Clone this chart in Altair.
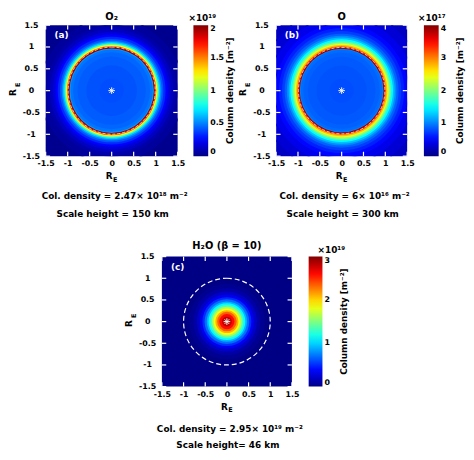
import math
import altair as alt
import pandas as pd

FONT = "DejaVu Sans"
TICKS = [-1.5, -1, -0.5, 0, 0.5, 1, 1.5]
JET = ["#000084", "#0000ff", "#00ffff", "#ffff00", "#ff0000", "#800000"]
JET_STOPS = [0, 0.125, 0.375, 0.625, 0.875, 1]

# (a) O2: column density (x1e19 m^-2) in concentric bands; radius = outer edge of band (R_E)
radius_a = [0.30, 0.60, 0.80, 0.90, 0.96, 0.985, 1.00, 1.02, 1.04, 1.06, 1.08, 1.10,
            1.13, 1.16, 1.20, 1.25, 1.30, 1.36, 1.43, 1.50, 1.65, 2.20]
dens_a = [0.40, 0.41, 0.43, 0.45, 0.48, 0.55, 2.00, 1.85, 1.55, 1.25, 1.00, 0.82,
          0.65, 0.52, 0.42, 0.33, 0.25, 0.18, 0.12, 0.08, 0.05, 0.02]
cbar_a = [0, 0.5, 1, 1.5, 2]

# (b) O: column density (x1e17 m^-2)
radius_b = [0.30, 0.60, 0.80, 0.90, 0.96, 0.985, 1.00, 1.02, 1.04, 1.07, 1.10, 1.13,
            1.16, 1.20, 1.24, 1.28, 1.33, 1.39, 1.46, 1.55, 1.70, 1.90, 2.20]
dens_b = [0.80, 0.82, 0.85, 0.88, 0.92, 1.00, 4.00, 3.60, 3.20, 2.75, 2.40, 2.10,
          1.80, 1.50, 1.25, 1.05, 0.88, 0.74, 0.62, 0.52, 0.42, 0.33, 0.25]
cbar_b = [0, 1, 2, 3, 4]

# (c) H2O: column density (x1e19 m^-2)
radius_c = [0.08, 0.14, 0.20, 0.25, 0.29, 0.33, 0.37, 0.41, 0.45, 0.49, 0.54, 0.59,
            0.65, 0.72, 0.80, 0.90, 2.20]
dens_c = [2.95, 2.80, 2.60, 2.35, 2.10, 1.85, 1.60, 1.35, 1.12, 0.90, 0.70, 0.50,
          0.33, 0.20, 0.10, 0.04, 0.00]
cbar_c = [0, 1, 2, 3]

center = {"x": [0.0], "y": [0.0]}
STAR = "M-1,0L1,0M0,-1L0,1M-0.7,-0.7L0.7,0.7M-0.7,0.7L0.7,-0.7"


def tx(s, x, y, size=9, angle=0, color="black", align="center", baseline="middle"):
    return alt.Chart(pd.DataFrame({"s": [s]})).mark_text(
        font=FONT, fontSize=size, fontWeight="bold", angle=angle, color=color,
        align=align, baseline=baseline
    ).encode(text="s:N", x=alt.value(x), y=alt.value(y))


def panel(radius, dens, vmax, cvals, W, H, title, title_y, tag, expo, expo_dx,
          line1, line2, l1y, l2y, cb_off, cb_thick, limb_r, limb_color, limb_w, limb_dash):
    # each band overlaps the previous one by about 1 px so no seams show
    inner = [0.0] + [max(r - 0.025, 0.0) for r in radius[:-1]]
    rings = pd.DataFrame({"r": radius, "r0": inner, "v": dens})
    xs = alt.Scale(domain=[-1.5, 1.5], nice=False, zero=False)
    ys = alt.Scale(domain=[-1.5, 1.5], nice=False, zero=False)
    rs = alt.Scale(type="linear", domain=[0, 1.5], range=[0, W / 2], nice=False, zero=True)
    cdom = [vmax * s for s in JET_STOPS]
    cs = alt.Scale(domain=cdom, range=JET, interpolate="rgb", clamp=True)
    legend = alt.Legend(
        title=None, orient="right", offset=cb_off, direction="vertical",
        gradientLength=H, gradientThickness=cb_thick, gradientStrokeWidth=0,
        values=cvals, labelExpr="'' + datum.value", labelFont=FONT, labelFontSize=8,
        labelFontWeight="bold", labelColor="black", labelOffset=2,
        labelBaseline="middle", labelOverlap=False, padding=0,
    )
    discs = alt.Chart(rings).mark_arc(theta=0, theta2=2 * math.pi, clip=True).encode(
        radius=alt.Radius("r:Q", scale=rs),
        radius2="r0:Q",
        color=alt.Color("v:Q", scale=cs, legend=legend),
    )
    limb = alt.Chart(pd.DataFrame({"r": [limb_r]})).mark_arc(
        theta=0, theta2=2 * math.pi, filled=False, stroke=limb_color,
        strokeWidth=limb_w, strokeDash=limb_dash, clip=True
    ).encode(radius=alt.Radius("r:Q", scale=rs))

    L = 0.1
    rows = []
    for t in TICKS:
        rows.append((t, -1.5, t, -1.5 + L))
        rows.append((t, 1.5, t, 1.5 - L))
        rows.append((-1.5, t, -1.5 + L, t))
        rows.append((1.5, t, 1.5 - L, t))
    tdf = pd.DataFrame(rows, columns=["x", "y", "x2", "y2"])
    ax_x = alt.Axis(values=TICKS, labelExpr="'' + datum.value", domain=False, ticks=False,
                    tickSize=0, grid=False, title=None, labelFont=FONT, labelFontSize=8,
                    labelFontWeight="bold", labelColor="black", labelFlush=False,
                    labelPadding=4)
    ax_y = alt.Axis(values=TICKS, labelExpr="'' + datum.value", domain=False, ticks=False,
                    tickSize=0, grid=False, title=None, labelFont=FONT, labelFontSize=8,
                    labelFontWeight="bold", labelColor="black", labelFlush=False,
                    labelPadding=15, labelAlign="center", labelBaseline="middle")
    tk = alt.Chart(tdf).mark_rule(color="white", strokeWidth=1.2).encode(
        x=alt.X("x:Q", scale=xs, axis=ax_x), x2="x2:Q",
        y=alt.Y("y:Q", scale=ys, axis=ax_y), y2="y2:Q",
    )
    star = alt.Chart(pd.DataFrame(center)).mark_point(
        shape=STAR, filled=False, color="#f4f4f4", size=45, strokeWidth=1, opacity=1
    ).encode(x=alt.X("x:Q", scale=xs, axis=ax_x), y=alt.Y("y:Q", scale=ys, axis=ax_y))

    texts = [
        tx(title, W / 2, title_y, size=10, baseline="alphabetic"),
        tx(tag, 16, 10.5, size=9, color="white"),
        tx("R", -33.5, H / 2 + 2, size=9, angle=270),
        tx("E", -28.5, H / 2 - 6, size=6.5, angle=270),
        tx("R", W / 2 - 2.5, H + 20.5, size=9),
        tx("E", W / 2 + 3.5, H + 24, size=6.5),
        tx(line1, W / 2 + 3, H + l1y, size=9),
        tx(line2, W / 2 + 1, H + l2y, size=9),
        tx(expo, W + expo_dx, -4, size=9, baseline="alphabetic"),
        tx("Column density [m\u207b\u00b2]", W + cb_off + cb_thick + 22, H / 2, size=9, angle=270),
    ]
    return alt.layer(discs, limb, tk, star, *texts).properties(width=W, height=H)


pa = panel(radius_a, dens_a, 2, cbar_a, 134, 133, "O\u2082", -5, "(a)",
           "\u00d710\u00b9\u2079", 25,
           "Col. density = 2.47\u00d7 10\u00b9\u2078 m\u207b\u00b2", "Scale height = 150 km", 41, 59,
           16, 15, 0.99, "#e6e6e6", 0.8, [3, 2])
pb = panel(radius_b, dens_b, 4, cbar_b, 133, 133, "O", -5, "(b)",
           "\u00d710\u00b9\u2077", 25,
           "Col. density = 6\u00d7 10\u00b9\u2076 m\u207b\u00b2", "Scale height = 300 km", 41, 59,
           17, 15, 0.99, "#e6e6e6", 0.8, [3, 2])
pc = panel(radius_c, dens_c, 3, cbar_c, 132, 132, "H\u2082O (\u03b2 = 10)", -8, "(c)",
           "\u00d710\u00b9\u2079", 40,
           "Col. density = 2.95\u00d7 10\u00b9\u2079 m\u207b\u00b2", "Scale height= 46 km", 43, 59,
           17, 14, 1.0, "white", 1.2, [5, 3])

RES = dict(color="independent", radius="independent", x="independent", y="independent")

row1 = alt.hconcat(pa, pb, spacing=3).resolve_scale(**RES).resolve_legend(color="independent")

chart = alt.vconcat(row1, pc, spacing=20, center=True).resolve_scale(**RES).resolve_legend(
    color="independent"
).properties(
    padding={"left": 0, "top": 0, "right": 0, "bottom": 0}, background="white"
).configure_view(stroke="transparent")

chart.save("out.html", embed_options={"renderer": "svg", "actions": False})
